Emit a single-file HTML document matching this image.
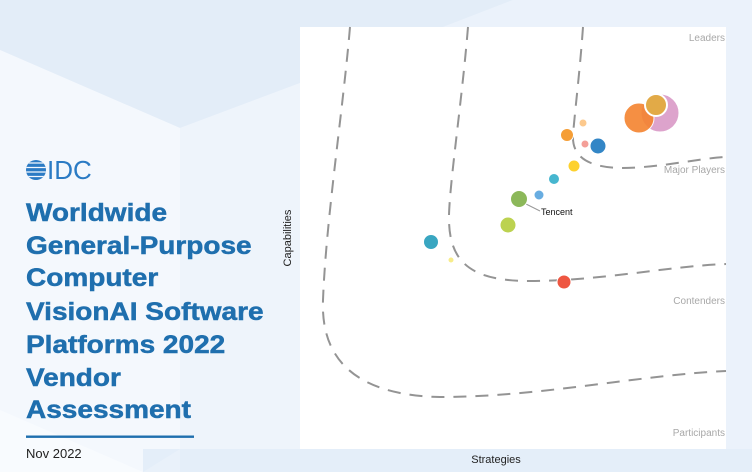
<!DOCTYPE html>
<html><head><meta charset="utf-8"><style>
html,body{margin:0;padding:0;}
body{width:752px;height:472px;overflow:hidden;position:relative;font-family:"Liberation Sans",sans-serif;}
svg{position:absolute;left:0;top:0;}
.t{position:absolute;left:26px;font-weight:bold;font-size:25px;color:#1f6fae;white-space:nowrap;transform:scaleX(1.12);transform-origin:0 0;line-height:25px;-webkit-text-stroke:0.5px #1f6fae;}
</style></head><body>
<svg width="752" height="472" viewBox="0 0 752 472" xmlns="http://www.w3.org/2000/svg">
<defs>
<clipPath id="g"><circle cx="36" cy="170" r="10"/></clipPath>
</defs>
<rect width="752" height="472" fill="#ecf2fb"/>
<polygon points="0,0 513,0 443,27 300,83 180,128 0,50" fill="#e3edf8"/>
<polygon points="513,0 752,0 752,472 726,472 726,27 443,27" fill="#ebf2fb"/>
<polygon points="0,50 180,128 180,472 0,472" fill="#f4f8fd"/>
<polygon points="0,410 143,472 0,472" fill="#f8fbfe"/>
<polygon points="180,128 300,83 300,472 180,472" fill="#eef4fb"/>
<rect x="143" y="449" width="609" height="23" fill="#e4eef9"/>
<polygon points="143,472 180,449 180,472" fill="#e9f1fa"/>
<rect x="300" y="27" width="426" height="422" fill="#ffffff"/>
<g fill="none" stroke="#949494" stroke-width="2" stroke-dasharray="13,9">
<path d="M350,27 C343,110 326,220 323,300 C321,350 345,395 440,397 C540,397 640,375 726,371"/>
<path d="M468,27 C462,100 450,180 449,215 C448,262 470,281 530,281 C600,281 670,266 726,264"/>
<path d="M583,27 C580,70 575,110 573,135 C572,155 585,167 620,168 C660,168 700,158 726,157"/>
</g>
<g font-size="10" fill="#a8a8a8" text-anchor="end" font-family="Liberation Sans, sans-serif">
<text x="725" y="41">Leaders</text>
<text x="725" y="173">Major Players</text>
<text x="725" y="304">Contenders</text>
<text x="725" y="436">Participants</text>
</g>
<line x1="522" y1="202" x2="540" y2="211" stroke="#999" stroke-width="1"/>
<g stroke="#ffffff" stroke-width="1">
<circle cx="660" cy="113" r="19" fill="#dc9fca" opacity="0.95"/>
<circle cx="639" cy="118" r="15" fill="#f5832f" opacity="0.9"/>
<circle cx="656" cy="105" r="11" fill="#e2aa47" stroke-width="2"/>
<circle cx="583" cy="123" r="4" fill="#fcc98e"/>
<circle cx="567" cy="135" r="6.5" fill="#f59e36"/>
<circle cx="585" cy="144" r="4" fill="#f49f98"/>
<circle cx="598" cy="146" r="8" fill="#3386c6"/>
<circle cx="574" cy="166" r="6" fill="#fdd12e"/>
<circle cx="554" cy="179" r="5.5" fill="#46b6cf"/>
<circle cx="539" cy="195" r="5" fill="#68ade1"/>
<circle cx="519" cy="199" r="8.5" fill="#8cb85a"/>
<circle cx="508" cy="225" r="8" fill="#bcd250"/>
<circle cx="431" cy="242" r="7.5" fill="#39a6c1"/>
<circle cx="451" cy="260" r="3" fill="#f7ec8a"/>
<circle cx="564" cy="282" r="7" fill="#ee5641"/>
</g>
<text x="541" y="215" font-size="9" fill="#111" font-family="Liberation Sans, sans-serif">Tencent</text>
<text x="496" y="463" font-size="11" fill="#222" text-anchor="middle" font-family="Liberation Sans, sans-serif">Strategies</text>
<text transform="translate(291,238) rotate(-90)" font-size="11" fill="#222" text-anchor="middle" font-family="Liberation Sans, sans-serif">Capabilities</text>
<g clip-path="url(#g)">
<rect x="24" y="158" width="26" height="24" fill="#2b7bc4"/>
<g stroke="#f4f8fd" stroke-width="1.3">
<line x1="24" y1="163" x2="50" y2="163"/>
<line x1="24" y1="167.5" x2="50" y2="167.5"/>
<line x1="24" y1="172" x2="50" y2="172"/>
<line x1="24" y1="176.5" x2="50" y2="176.5"/>
</g>
</g>
<text x="47" y="179" font-size="26" fill="#2b7bc4" font-family="Liberation Sans, sans-serif">IDC</text>
<rect x="26" y="435.5" width="168" height="2.4" fill="#1f6fae"/>
<text x="26" y="458" font-size="13" fill="#222" font-family="Liberation Sans, sans-serif">Nov 2022</text>
</svg>
<div class="t" style="top:201px">Worldwide</div>
<div class="t" style="top:234px">General-Purpose</div>
<div class="t" style="top:266px">Computer</div>
<div class="t" style="top:300px">VisionAI Software</div>
<div class="t" style="top:333px">Platforms 2022</div>
<div class="t" style="top:366px">Vendor</div>
<div class="t" style="top:398px">Assessment</div>
</body></html>
